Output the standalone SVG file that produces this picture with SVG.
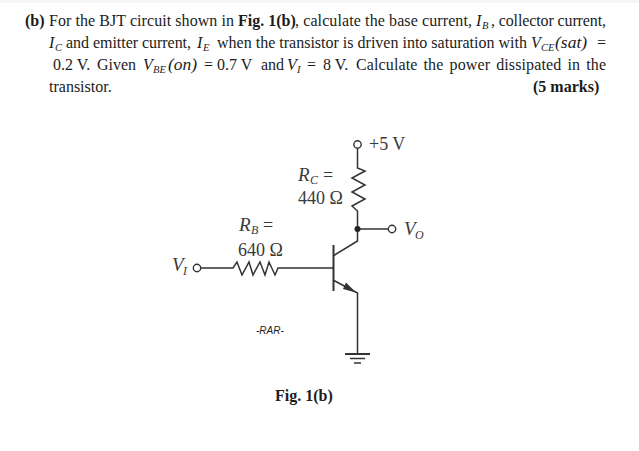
<svg xmlns="http://www.w3.org/2000/svg" width="639" height="451" viewBox="0 0 639 451">
<style>
text{font-family:"Liberation Serif","Times New Roman",serif;fill:#1c1c1c;font-size:16px}
.b{font-weight:bold}
.i{font-style:italic}
.s{font-size:10.5px;font-style:italic}
.m{font-family:"Liberation Serif",serif;font-style:italic;font-size:17.5px}
.c{fill:#3a3a3a;font-size:18px}
.ci{fill:#3a3a3a;font-size:19px;font-style:italic}
.cs{fill:#3a3a3a;font-size:12px;font-style:italic}
.w{fill:none;stroke:#333;stroke-width:1.5}
.o{fill:#fff;stroke:#333;stroke-width:1.4}
</style>
<rect width="639" height="451" fill="#fff"/>
<rect width="639" height="3" fill="#f6f6f6"/>
<g id="question">
<text x="25" y="26" class="b">(b)</text>
<text x="49" y="26" textLength="185">For the BJT circuit shown in</text>
<text x="238" y="26" class="b">Fig. 1(b)</text>
<text x="295" y="26" textLength="177">, calculate the base current,</text>
<text x="476" y="26" class="i">I</text><text x="482" y="29" class="s">B</text>
<text x="491" y="26" textLength="115">, collector current,</text>
<text x="49" y="48" class="i">I</text><text x="55" y="51" class="s">C</text>
<text x="66" y="48" textLength="125">and emitter current,</text>
<text x="197" y="48" class="i">I</text><text x="203" y="51" class="s">E</text>
<text x="217" y="48" textLength="310">when the transistor is driven into saturation with</text>
<text x="531" y="48" class="i">V</text><text x="541" y="51" class="s">CE</text>
<text x="555" y="48" class="m">(sat)</text>
<text x="597" y="48">=</text>
<text x="53" y="70">0.2 V.</text>
<text x="97" y="70">Given</text>
<text x="143" y="70" class="i">V</text><text x="153" y="73" class="s">BE</text>
<text x="168" y="70" class="m">(on)</text>
<text x="204" y="70">= 0.7 V</text>
<text x="261" y="70">and</text>
<text x="287" y="70" class="i">V</text><text x="297" y="73" class="s">I</text>
<text x="307" y="70">=</text>
<text x="323" y="70">8 V.</text>
<text x="356" y="70" textLength="250" style="word-spacing:2px">Calculate the power dissipated in the</text>
<text x="49" y="92">transistor.</text>
<text x="533" y="92" class="b">(5 marks)</text>
</g>
<g id="connectors">
<path class="w" d="M357.500 148V168L365 171L352 178L365 185L352 192L365 199L352 206L357.500 211V241L333 256"/>
<path class="w" d="M357.500 229H388"/>
<path class="w" d="M201 268H233L237 262L242 275L249 262L253 275L260 262L265 275L269 262L275 275L278 268H333"/>
<path class="w" d="M333.500 245V291" style="stroke-width:2"/>
<path class="w" d="M333 280L357.500 293V354"/>
</g>
<g id="emitter-arrow"><path d="M356 292.500L346 282.500L343 289Z" fill="#333"/></g>
<g id="junction"><circle cx="357.500" cy="229" r="3" fill="#222"/></g>
<g id="vcc"><circle class="o" cx="357.500" cy="144.500" r="3.700"/><text class="c" x="369" y="150">+5 V</text></g>
<g id="vo"><circle class="o" cx="392" cy="229" r="3.700"/><text class="ci" x="404" y="235">V</text><text class="cs" x="415" y="239">O</text></g>
<g id="vi"><circle class="o" cx="197" cy="268" r="3.700"/><text class="ci" x="172" y="271">V</text><text class="cs" x="183" y="275">I</text></g>
<g id="rc"><text class="ci" x="298" y="181">R</text><text class="cs" x="310" y="184">C</text><text class="c" x="323" y="181">=</text><text class="c" x="298" y="204">440 Ω</text></g>
<g id="rb"><text class="ci" x="239" y="231">R</text><text class="cs" x="251" y="234">B</text><text class="c" x="263" y="231">=</text><text class="c" x="238" y="256">640 Ω</text></g>
<g id="ground"><path class="w" d="M345 354H370" style="stroke-width:2"/><path class="w" d="M350 358.500H365"/><path class="w" d="M354 363H361"/></g>
<text x="256" y="334" style="font-family:'Liberation Sans',sans-serif;font-size:10px;font-style:italic" fill="#333">-RAR-</text>
<text x="275" y="401" class="b" style="font-size:16px">Fig. 1(b)</text>
</svg>
